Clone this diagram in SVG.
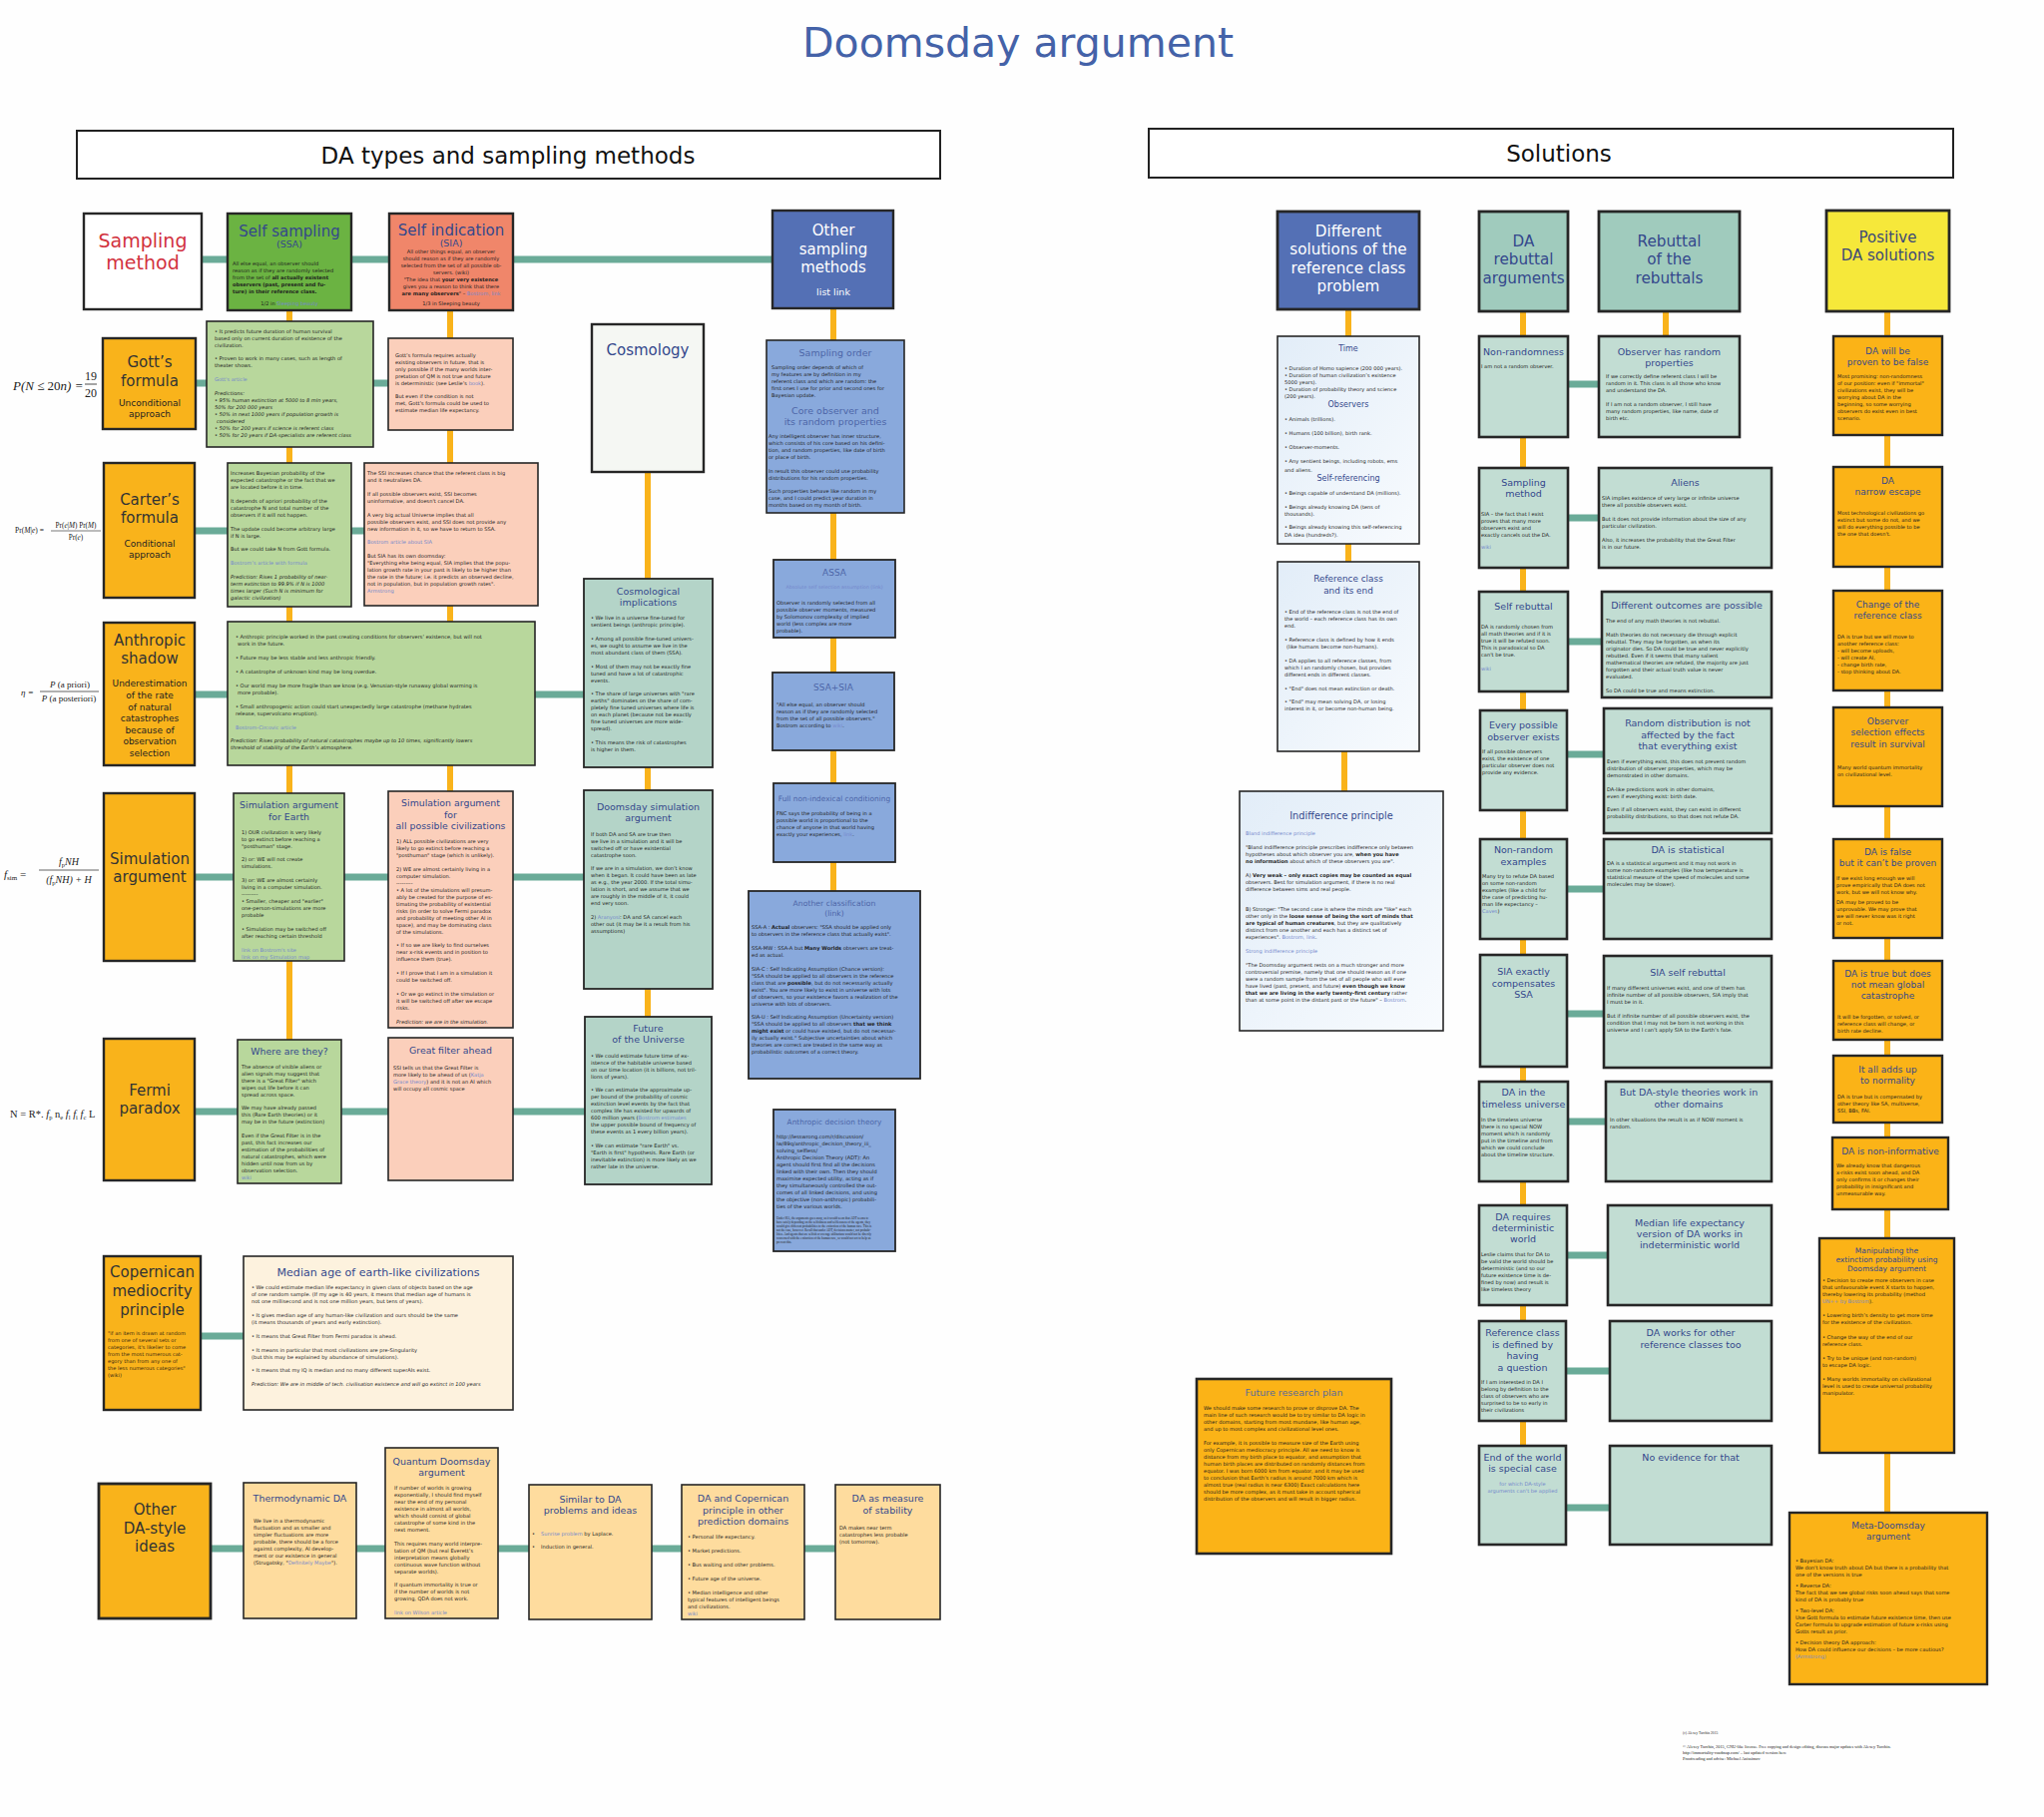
<svg xmlns="http://www.w3.org/2000/svg" width="2048" height="1821" viewBox="0 0 2048 1821">
<defs>
<linearGradient id="gb" x1="0" y1="0" x2="1" y2="1"><stop offset="0" stop-color="#e2edf8"/><stop offset="1" stop-color="#f8fbfe"/></linearGradient>
<style>
.box{stroke:#262626;stroke-width:2.4}
.hdr{fill:#fff;stroke:#222;stroke-width:2}
.t{font-family:"DejaVu Sans",Verdana,sans-serif;fill:#34488c;text-anchor:middle}
.t2{font-family:"DejaVu Sans",Verdana,sans-serif;fill:#4d66a8;text-anchor:middle}
.wt{font-family:"DejaVu Sans",Verdana,sans-serif;fill:#ffffff;text-anchor:middle}
.b{font-family:"DejaVu Sans",Verdana,sans-serif;font-size:5.1px;fill:#1e1e1e}
.c{text-anchor:middle}
.l{fill:#7488cc}
.i{font-style:italic}
.w{font-weight:bold}
.f{font-family:"Liberation Serif","Times New Roman",serif;fill:#222}
.tc{stroke:#6aab98;stroke-width:7;fill:none}
.oc{stroke:#f9b31b;stroke-width:6;fill:none}
.or{fill:#f9b31b}
.gr{fill:#b8d79c}
.pk{fill:#fbcfbb}
.lb{fill:#89a9dc}
.tl{fill:#b4d4c8}
.rt{fill:#c2ddd3}
.lo{fill:#fedc9e}
.ro{fill:#fbb317}
</style>
</defs>
<rect width="2048" height="1821" fill="#fefefe"/>

<text x="1020" y="57" font-size="41" fill="#4462a8" font-family="DejaVu Sans,Verdana,sans-serif" text-anchor="middle">Doomsday argument</text>

<g id="header-left"><rect x="77" y="131" width="865" height="48" class="hdr"/><text x="509" y="164" font-size="23" font-family="DejaVu Sans,Verdana,sans-serif" text-anchor="middle" fill="#111">DA types and sampling methods</text></g>
<g id="header-right"><rect x="1151" y="129" width="806" height="49" class="hdr"/><text x="1562" y="162" font-size="23" font-family="DejaVu Sans,Verdana,sans-serif" text-anchor="middle" fill="#111">Solutions</text></g>

<g id="connectors">
<line class="tc" x1="202" y1="260" x2="774" y2="260"/>
<line class="tc" x1="196" y1="384" x2="389" y2="384"/>
<line class="tc" x1="195" y1="532" x2="365" y2="532"/>
<line class="tc" x1="195" y1="696" x2="585" y2="696"/>
<line class="tc" x1="195" y1="879" x2="585" y2="879"/>
<line class="tc" x1="195" y1="1114" x2="586" y2="1114"/>
<line class="tc" x1="201" y1="1339" x2="244" y2="1339"/>
<line class="tc" x1="211" y1="1552" x2="837" y2="1552"/>
<line class="tc" x1="1571" y1="385" x2="1602" y2="385"/>
<line class="tc" x1="1571" y1="519" x2="1602" y2="519"/>
<line class="tc" x1="1571" y1="643" x2="1605" y2="643"/>
<line class="tc" x1="1570" y1="756" x2="1607" y2="756"/>
<line class="tc" x1="1570" y1="891" x2="1607" y2="891"/>
<line class="tc" x1="1570" y1="1016" x2="1607" y2="1016"/>
<line class="tc" x1="1571" y1="1124" x2="1609" y2="1124"/>
<line class="tc" x1="1570" y1="1258" x2="1611" y2="1258"/>
<line class="tc" x1="1569" y1="1374" x2="1613" y2="1374"/>
<line class="tc" x1="1569" y1="1511" x2="1613" y2="1511"/>
<line class="oc" x1="290" y1="311" x2="290" y2="1042"/>
<line class="oc" x1="451" y1="311" x2="451" y2="623"/>
<line class="oc" x1="451" y1="767" x2="451" y2="793"/>
<line class="oc" x1="649" y1="473" x2="649" y2="1019"/>
<line class="oc" x1="835" y1="309" x2="835" y2="893"/>
<line class="oc" x1="1351" y1="310" x2="1351" y2="563"/>
<line class="oc" x1="1347" y1="753" x2="1347" y2="793"/>
<line class="oc" x1="1526" y1="312" x2="1526" y2="1449"/>
<line class="oc" x1="1669" y1="312" x2="1669" y2="337"/>
<line class="oc" x1="1891" y1="312" x2="1891" y2="1516"/>
</g>

<!-- formulas -->
<g id="formula-gott"><text class="f i" x="13" y="391" font-size="13">P(N ≤ <tspan font-style="normal">20</tspan>n) =</text><text class="f" x="91" y="381" font-size="12" text-anchor="middle">19</text><line x1="85" y1="385" x2="97" y2="385" stroke="#222" stroke-width="0.8"/><text class="f" x="91" y="398" font-size="12" text-anchor="middle">20</text></g>
<g id="formula-carter"><text class="f" x="15" y="534" font-size="7.5">Pr(<tspan font-style="italic">M</tspan>|<tspan font-style="italic">e</tspan>) =</text><text class="f" x="76" y="529" font-size="7.2" text-anchor="middle">Pr(<tspan font-style="italic">e</tspan>|<tspan font-style="italic">M</tspan>) Pr(<tspan font-style="italic">M</tspan>)</text><line x1="51" y1="532" x2="101" y2="532" stroke="#222" stroke-width="0.6"/><text class="f" x="76" y="541" font-size="7.2" text-anchor="middle">Pr(<tspan font-style="italic">e</tspan>)</text></g>
<g id="formula-shadow"><text class="f i" x="21" y="697" font-size="9">η =</text><text class="f" x="70" y="689" font-size="9" text-anchor="middle"><tspan font-style="italic">P</tspan> (a priori)</text><line x1="40" y1="693" x2="99" y2="693" stroke="#222" stroke-width="0.7"/><text class="f" x="69" y="703" font-size="9" text-anchor="middle"><tspan font-style="italic">P</tspan> (a posteriori)</text></g>
<g id="formula-sim"><text class="f i" x="4" y="880" font-size="11">f<tspan font-size="7" font-style="normal" dy="2">sim</tspan><tspan dy="-2" font-style="normal"> =</tspan></text><text class="f i" x="69" y="867" font-size="10" text-anchor="middle">f<tspan font-size="6.5" font-style="normal" dy="2">p</tspan><tspan dy="-2">NH</tspan></text><line x1="39" y1="872" x2="99" y2="872" stroke="#222" stroke-width="0.7"/><text class="f i" x="69" y="885" font-size="10" text-anchor="middle">(f<tspan font-size="6.5" font-style="normal" dy="2">p</tspan><tspan dy="-2">NH) + H</tspan></text></g>
<g id="formula-fermi"><text class="f" x="10" y="1120" font-size="10.5">N = R*. <tspan font-style="italic">f</tspan><tspan font-size="6.5" dy="2">p</tspan><tspan dy="-2"> n</tspan><tspan font-size="6.5" dy="2">e</tspan><tspan dy="-2"> </tspan><tspan font-style="italic">f</tspan><tspan font-size="6.5" dy="2">l</tspan><tspan dy="-2"> </tspan><tspan font-style="italic">f</tspan><tspan font-size="6.5" dy="2">i</tspan><tspan dy="-2"> </tspan><tspan font-style="italic">f</tspan><tspan font-size="6.5" dy="2">c</tspan><tspan dy="-2"> L</tspan></text></g>

<g id="sampling-method"><rect x="84" y="214" width="118" height="96" fill="#fff" class="box"/><text class="t" font-size="19" style="fill:#d2323e"><tspan x="143" y="248">Sampling</tspan><tspan x="143" y="270">method</tspan></text></g>

<g id="self-sampling"><rect x="228" y="214" width="124" height="97" fill="#6bb342" class="box"/>
<text class="t" font-size="15" x="290" y="237">Self sampling</text><text class="t" font-size="9.5" x="290" y="248">(SSA)</text>
<text class="b"><tspan x="233" y="266">All else equal, an observer should</tspan><tspan x="233" y="273">reason as if they are randomly selected</tspan><tspan x="233" y="280">from the set of <tspan class="w">all actually existent</tspan></tspan><tspan x="233" y="287" class="w">observers (past, present and fu-</tspan><tspan x="233" y="294" class="w">ture) in their reference class.</tspan><tspan x="290" y="306" class="c">1/2 in <tspan class="l">Sleeping beauty</tspan></tspan></text></g>

<g id="self-indication"><rect x="390" y="214" width="124" height="97" fill="#f0866a" class="box"/>
<text class="t" font-size="15" x="452" y="236">Self indication</text><text class="t" font-size="9.5" x="452" y="247">(SIA)</text>
<text class="b c"><tspan x="452" y="254">All other things equal, an observer</tspan><tspan x="452" y="261">should reason as if they are randomly</tspan><tspan x="452" y="268">selected from the set of all possible ob-</tspan><tspan x="452" y="275">servers. (wiki)</tspan><tspan x="452" y="282">"The idea that <tspan class="w">your very existence</tspan></tspan><tspan x="452" y="289">gives you a reason to think that there</tspan><tspan x="452" y="296"><tspan class="w">are many observers</tspan>" – <tspan class="l">Bostrom, link</tspan></tspan><tspan x="452" y="306">1/3 in Sleeping beauty</tspan></text></g>

<g id="other-sampling"><rect x="774" y="211" width="121" height="98" fill="#5470b5" class="box"/>
<text class="wt" font-size="15"><tspan x="835" y="236">Other</tspan><tspan x="835" y="255">sampling</tspan><tspan x="835" y="273">methods</tspan></text><text class="wt" font-size="9.5" x="835" y="296">list link</text></g>

<g id="gott"><rect x="103" y="339" width="93" height="91" class="box or"/>
<text class="t" font-size="15" style="fill:#333"><tspan x="150" y="368">Gott’s</tspan><tspan x="150" y="387">formula</tspan></text><text class="t" font-size="9" style="fill:#222"><tspan x="150" y="407">Unconditional</tspan><tspan x="150" y="418">approach</tspan></text></g>

<g id="gott-ssa"><rect x="207" y="322" width="167" height="126" class="box gr" style="stroke-width:1.6"/>
<text class="b"><tspan x="215" y="334">• It predicts future duration of human survival</tspan><tspan x="215" y="341">based only on current duration of existence of the</tspan><tspan x="215" y="348">civilization.</tspan><tspan x="215" y="361">• Proven to work in many cases, such as length of</tspan><tspan x="215" y="368">theater shows.</tspan><tspan x="215" y="382" class="l">Gott's article</tspan><tspan class="i"><tspan x="215" y="396">Predictions:</tspan><tspan x="215" y="403">• 95% human extinction at 5000 to 8 mln years,</tspan><tspan x="215" y="410">50%  for 200 000 years</tspan><tspan x="215" y="417">• 50% in next 1000 years if population growth is</tspan><tspan x="217" y="424">considered</tspan><tspan x="215" y="431">• 50% for 200 years if science is referent class</tspan><tspan x="215" y="438">• 50% for 20 years if DA-specialists are referent class</tspan></tspan></text></g>

<g id="gott-sia"><rect x="389" y="339" width="125" height="92" class="box pk" style="stroke-width:1.6"/>
<text class="b"><tspan x="396" y="358">Gott’s formula requires actually</tspan><tspan x="396" y="365">existing observers in future, that is</tspan><tspan x="396" y="372">only possible if the many worlds inter-</tspan><tspan x="396" y="379">pretation of QM is not true and future</tspan><tspan x="396" y="386">is deterministic (see Leslie’s <tspan class="l">book</tspan>).</tspan><tspan x="396" y="399">But even if the condition is not</tspan><tspan x="396" y="406">met, Gott’s formula could be used to</tspan><tspan x="396" y="413">estimate median life expectancy.</tspan></text></g>

<g id="carter"><rect x="104" y="464" width="91" height="135" class="box or"/>
<text class="t" font-size="15" style="fill:#333"><tspan x="150" y="506">Carter’s</tspan><tspan x="150" y="524">formula</tspan></text><text class="t" font-size="9" style="fill:#222"><tspan x="150" y="548">Conditional</tspan><tspan x="150" y="559">approach</tspan></text></g>

<g id="carter-ssa"><rect x="228" y="464" width="124" height="144" class="box gr" style="stroke-width:1.6"/>
<text class="b"><tspan x="231" y="476">Increases Bayesian probability of the</tspan><tspan x="231" y="483">expected catastrophe or the fact that we</tspan><tspan x="231" y="490">are located before it in time.</tspan><tspan x="231" y="504">It depends of apriori probability of the</tspan><tspan x="231" y="511">catastrophe N and total number of the</tspan><tspan x="231" y="518">observers if it will not happen.</tspan><tspan x="231" y="532">The update could become arbitrary large</tspan><tspan x="231" y="539">if N is large.</tspan><tspan x="231" y="552">But we could take N from Gott formula.</tspan><tspan x="231" y="566" class="l">Bostrom’s article with formula</tspan><tspan class="i"><tspan x="231" y="580">Prediction: Rises 1 probability of near-</tspan><tspan x="231" y="587">term extinction to 99.9% if N is 1000</tspan><tspan x="231" y="594">times larger (Such N is minimum for</tspan><tspan x="231" y="601">galactic civilization)</tspan></tspan></text></g>

<g id="carter-sia"><rect x="365" y="464" width="174" height="143" class="box pk" style="stroke-width:1.6"/>
<text class="b"><tspan x="368" y="476">The SSI increases chance that the referent class is big</tspan><tspan x="368" y="483">and it neutralizes DA.</tspan><tspan x="368" y="497">If all possible observers exist, SSI becomes</tspan><tspan x="368" y="504">uninformative, and doesn't cancel DA.</tspan><tspan x="368" y="518">A very big actual Universe implies that all</tspan><tspan x="368" y="525">possible observers exist, and SSI does not provide any</tspan><tspan x="368" y="532">new information in it, so we have to return to SSA.</tspan><tspan x="368" y="545" class="l">Bostrom article about SIA</tspan><tspan x="368" y="559">But SIA has its own doomsday:</tspan><tspan x="368" y="566">"Everything else being equal, SIA implies that the popu-</tspan><tspan x="368" y="573">lation growth rate in your past is likely to be higher than</tspan><tspan x="368" y="580">the rate in the future; i.e. it predicts an observed decline,</tspan><tspan x="368" y="587">not in population, but in population growth rates".</tspan><tspan x="368" y="594" class="l">Armstrong</tspan></text></g>

<g id="anthropic-shadow"><rect x="104" y="624" width="91" height="143" class="box or"/>
<text class="t" font-size="15" style="fill:#333"><tspan x="150" y="647">Anthropic</tspan><tspan x="150" y="665">shadow</tspan></text><text class="t" font-size="9" style="fill:#222"><tspan x="150" y="688">Underestimation</tspan><tspan x="150" y="700">of the rate</tspan><tspan x="150" y="712">of natural</tspan><tspan x="150" y="723">catastrophes</tspan><tspan x="150" y="735">because of</tspan><tspan x="150" y="746">observation</tspan><tspan x="150" y="758">selection</tspan></text></g>

<g id="anthropic-details"><rect x="228" y="623" width="308" height="144" class="box gr" style="stroke-width:1.6"/>
<text class="b"><tspan x="236" y="640">• Anthropic principle worked in the past creating conditions for observers’ existence, but will not</tspan><tspan x="238" y="647">work in the future.</tspan><tspan x="236" y="661">• Future may be less stable and less anthropic friendly.</tspan><tspan x="236" y="675">• A catastrophe of unknown kind may be long overdue.</tspan><tspan x="236" y="689">• Our world may be more fragile than we know (e.g. Venusian-style runaway global warming is</tspan><tspan x="238" y="696">more probable).</tspan><tspan x="236" y="710">• Small anthropogenic action could start unexpectedly large catastrophe (methane hydrates</tspan><tspan x="236" y="717">release, supervolcano eruption).</tspan><tspan x="236" y="731" class="l">Bostrom-Circovic article</tspan><tspan class="i"><tspan x="231" y="744">Prediction: Rises probability of natural catastrophes maybe up to 10 times, significantly lowers</tspan><tspan x="231" y="751">threshold of stability of the Earth’s atmosphere.</tspan></tspan></text></g>

<g id="simulation"><rect x="104" y="795" width="91" height="168" class="box or"/>
<text class="t" font-size="15" style="fill:#333"><tspan x="150" y="866">Simulation</tspan><tspan x="150" y="884">argument</tspan></text></g>

<g id="sim-earth"><rect x="234" y="795" width="111" height="168" class="box gr" style="stroke-width:1.6"/>
<text class="t" font-size="9.4"><tspan x="289.5" y="810">Simulation argument</tspan><tspan x="289.5" y="822">for Earth</tspan></text>
<text class="b"><tspan x="242" y="836">1) OUR civilization is very likely</tspan><tspan x="242" y="843">to go extinct before reaching a</tspan><tspan x="242" y="850">"posthuman" stage.</tspan><tspan x="242" y="863">2) or: WE will not create</tspan><tspan x="242" y="870">simulations.</tspan><tspan x="242" y="884">3) or: WE are almost certainly</tspan><tspan x="242" y="891">living in a computer simulation.</tspan><tspan x="242" y="898">---------</tspan><tspan x="242" y="905">• Smaller, cheaper and "earlier"</tspan><tspan x="242" y="912">one-person-simulations are more</tspan><tspan x="242" y="919">probable</tspan><tspan x="242" y="933">• Simulation may be switched off</tspan><tspan x="242" y="940">after reaching certain threshold</tspan><tspan x="242" y="954" class="l">link on Bostrom's site</tspan><tspan x="242" y="961" class="l">link on my Simulation map</tspan></text></g>

<g id="sim-all"><rect x="389" y="793" width="125" height="237" class="box pk" style="stroke-width:1.6"/>
<text class="t" font-size="9.4"><tspan x="451.5" y="808">Simulation argument</tspan><tspan x="451.5" y="820">for</tspan><tspan x="451.5" y="831">all possible civilizations</tspan></text>
<text class="b"><tspan x="397" y="845">1) ALL possible civilizations are very</tspan><tspan x="397" y="852">likely to go extinct before reaching a</tspan><tspan x="397" y="859">"posthuman" stage (which is unlikely).</tspan><tspan x="397" y="873">2) WE are almost certainly living in a</tspan><tspan x="397" y="880">computer simulation.</tspan><tspan x="397" y="887">---------</tspan><tspan x="397" y="894">• A lot of the simulations will presum-</tspan><tspan x="397" y="901">ably be created for the purpose of es-</tspan><tspan x="397" y="908">timating the probability of existential</tspan><tspan x="397" y="915">risks (in order to solve Fermi paradox</tspan><tspan x="397" y="922">and probability of meeting other AI in</tspan><tspan x="397" y="929">space), and may be dominating class</tspan><tspan x="397" y="936">of the simulations.</tspan><tspan x="397" y="949">• If so we are likely to find ourselves</tspan><tspan x="397" y="956">near x-risk events and in position to</tspan><tspan x="397" y="963">influence them (true).</tspan><tspan x="397" y="977">• If I prove that I am in a simulation it</tspan><tspan x="397" y="984">could be switched off.</tspan><tspan x="397" y="998">• Or we go extinct in the simulation or</tspan><tspan x="397" y="1005">it will be switched off after we escape</tspan><tspan x="397" y="1012">risks.</tspan><tspan x="397" y="1026" class="i">Prediction: we are in the simulation.</tspan></text></g>

<g id="fermi"><rect x="104" y="1041" width="91" height="142" class="box or"/>
<text class="t" font-size="15" style="fill:#333"><tspan x="150" y="1098">Fermi</tspan><tspan x="150" y="1116">paradox</tspan></text></g>

<g id="where"><rect x="238" y="1042" width="104" height="144" class="box gr" style="stroke-width:1.6"/>
<text class="t" font-size="9.4" x="290" y="1057">Where are they?</text>
<text class="b"><tspan x="242" y="1071">The absence of visible aliens or</tspan><tspan x="242" y="1078">alien signals may suggest that</tspan><tspan x="242" y="1085">there is a "Great Filter" which</tspan><tspan x="242" y="1092">wipes out life before it can</tspan><tspan x="242" y="1099">spread across space.</tspan><tspan x="242" y="1112">We may have already passed</tspan><tspan x="242" y="1119">this (Rare Earth theories) or it</tspan><tspan x="242" y="1126">may be in the future (extinction)</tspan><tspan x="242" y="1140">Even if the Great Filter is in the</tspan><tspan x="242" y="1147">past, this fact increases our</tspan><tspan x="242" y="1154">estimation of the probabilities of</tspan><tspan x="242" y="1161">natural catastrophes, which were</tspan><tspan x="242" y="1168">hidden until now from us by</tspan><tspan x="242" y="1175">observation selection.</tspan><tspan x="242" y="1182" class="l">wiki</tspan></text></g>

<g id="great-filter"><rect x="389" y="1040" width="125" height="143" class="box pk" style="stroke-width:1.6"/>
<text class="t" font-size="9.4" x="451.5" y="1056">Great filter ahead</text>
<text class="b"><tspan x="394" y="1072">SSI tells us that the Great Filter is</tspan><tspan x="394" y="1079">more likely to be ahead of us (<tspan class="l">Katja</tspan></tspan><tspan x="394" y="1086"><tspan class="l">Grace theory</tspan>) and it is not an AI which</tspan><tspan x="394" y="1093">will occupy all cosmic space</tspan></text></g>

<g id="cosmology"><rect x="593" y="325" width="112" height="148" fill="#f5f7f3" class="box"/>
<text class="t" font-size="15" x="649" y="356">Cosmology</text></g>

<g id="sampling-order"><rect x="768" y="341" width="138" height="173" class="box lb" style="stroke-width:1.6"/>
<text class="t2" font-size="9.5" x="837" y="357">Sampling order</text>
<text class="b"><tspan x="773" y="370">Sampling order depends of which of</tspan><tspan x="773" y="377">my features are by definition in my</tspan><tspan x="773" y="384">referent class and which are random: the</tspan><tspan x="773" y="391">first ones I use for prior and second ones for</tspan><tspan x="773" y="398">Bayesian update.</tspan></text>
<text class="t2" font-size="9.5"><tspan x="837" y="415">Core observer and</tspan><tspan x="837" y="426">its random properties</tspan></text>
<text class="b"><tspan x="770" y="439">Any intelligent observer has inner structure,</tspan><tspan x="770" y="446">which consists of his core based on his defini-</tspan><tspan x="770" y="453">tion, and random properties, like date of birth</tspan><tspan x="770" y="460">or place of birth.</tspan><tspan x="770" y="474">In result this observer could use probability</tspan><tspan x="770" y="481">distributions for his random properties.</tspan><tspan x="770" y="494">Such properties behave like random in my</tspan><tspan x="770" y="501">case, and I could predict year duration in</tspan><tspan x="770" y="508">months based on my month of birth.</tspan></text></g>

<g id="cosmological-implications"><rect x="585" y="580" width="129" height="189" class="box tl" style="stroke-width:1.8"/>
<text class="t" font-size="9.5"><tspan x="649.5" y="596">Cosmological</tspan><tspan x="649.5" y="607">implications</tspan></text>
<text class="b"><tspan x="592" y="621">•  We live in a universe fine-tuned for</tspan><tspan x="592" y="628">sentient beings (anthropic principle).</tspan><tspan x="592" y="642">•  Among all possible fine-tuned univers-</tspan><tspan x="592" y="649">es, we ought to assume we live in the</tspan><tspan x="592" y="656">most abundant class of them (SSA).</tspan><tspan x="592" y="670">•  Most of them may not be exactly fine</tspan><tspan x="592" y="677">tuned and have a lot of catastrophic</tspan><tspan x="592" y="684">events.</tspan><tspan x="592" y="697">•  The share of large universes with "rare</tspan><tspan x="592" y="704">earths" dominates on the share of com-</tspan><tspan x="592" y="711">pletely fine tuned universes where life is</tspan><tspan x="592" y="718">on each planet (because not be exactly</tspan><tspan x="592" y="725">fine tuned universes are more wide-</tspan><tspan x="592" y="732">spread).</tspan><tspan x="592" y="746">•  This means the risk of catastrophes</tspan><tspan x="592" y="753">is higher in them.</tspan></text></g>

<g id="doomsday-simulation"><rect x="585" y="792" width="129" height="199" class="box tl" style="stroke-width:1.8"/>
<text class="t" font-size="9.5"><tspan x="649.5" y="812">Doomsday simulation</tspan><tspan x="649.5" y="823">argument</tspan></text>
<text class="b"><tspan x="592" y="838">If both DA and SA are true then</tspan><tspan x="592" y="845">we live in a simulation and it will be</tspan><tspan x="592" y="852">switched off or have existential</tspan><tspan x="592" y="859">catastrophe soon.</tspan><tspan x="592" y="872">If we are in a simulation, we don’t know</tspan><tspan x="592" y="879">when it began. It could have been as late</tspan><tspan x="592" y="886">as e.g., the year 2000. If the total simu-</tspan><tspan x="592" y="893">lation is short, and we assume that we</tspan><tspan x="592" y="900">are roughly in the middle of it, it could</tspan><tspan x="592" y="907">end very soon.</tspan><tspan x="592" y="921">2) <tspan class="l">Aranyosi</tspan>: DA and SA cancel each</tspan><tspan x="592" y="928">other out (it may be it a result from his</tspan><tspan x="592" y="935">assumptions)</tspan></text></g>

<g id="future-universe"><rect x="586" y="1019" width="127" height="168" class="box tl" style="stroke-width:1.8"/>
<text class="t" font-size="9.5"><tspan x="649.5" y="1034">Future</tspan><tspan x="649.5" y="1045">of the Universe</tspan></text>
<text class="b"><tspan x="592" y="1060">•  We could estimate future time of ex-</tspan><tspan x="592" y="1067">istence of the habitable universe based</tspan><tspan x="592" y="1074">on our time location (it is billions, not tril-</tspan><tspan x="592" y="1081">lions of years).</tspan><tspan x="592" y="1094">•  We can estimate the approximate up-</tspan><tspan x="592" y="1101">per bound of the probability of cosmic</tspan><tspan x="592" y="1108">extinction level events by the fact that</tspan><tspan x="592" y="1115">complex life has existed for upwards of</tspan><tspan x="592" y="1122">600 million years (<tspan class="l">Bostrom estimates</tspan></tspan><tspan x="592" y="1129">the upper possible bound of frequency of</tspan><tspan x="592" y="1136">these events as 1 every billion years).</tspan><tspan x="592" y="1150">•  We can estimate "rare Earth" vs.</tspan><tspan x="592" y="1157">"Earth is first" hypothesis. Rare Earth (or</tspan><tspan x="592" y="1164">inevitable extinction) is more likely as we</tspan><tspan x="592" y="1171">rather late in the universe.</tspan></text></g>

<g id="assa"><rect x="775" y="561" width="122" height="78" class="box lb" style="stroke-width:1.8"/>
<text class="t2" font-size="9" x="836" y="577">ASSA</text>
<text class="b c l" x="836" y="590" style="font-size:4.8px">Absolute self selection assumption (link)</text>
<text class="b"><tspan x="778" y="606">Observer is randomly selected from all</tspan><tspan x="778" y="613">possible observer moments, measured</tspan><tspan x="778" y="620">by Solomonov complexity of implied</tspan><tspan x="778" y="627">world (less complex are more</tspan><tspan x="778" y="634">probable).</tspan></text></g>

<g id="ssa-sia"><rect x="774" y="674" width="122" height="78" class="box lb" style="stroke-width:1.8"/>
<text class="t2" font-size="9" x="835" y="692">SSA+SIA</text>
<text class="b"><tspan x="778" y="708">"All else equal, an observer should</tspan><tspan x="778" y="715">reason as if they are randomly selected</tspan><tspan x="778" y="722">from the set of all possible observers."</tspan><tspan x="778" y="729">Bostrom according to <tspan class="l">wiki</tspan>.</tspan></text></g>

<g id="fnc"><rect x="775" y="785" width="122" height="79" class="box lb" style="stroke-width:1.8"/>
<text class="t2" font-size="7.4" x="836" y="803">Full non-indexical conditioning</text>
<text class="b"><tspan x="778" y="817">FNC says the probability of being in a</tspan><tspan x="778" y="824">possible world is proportional to the</tspan><tspan x="778" y="831">chance of anyone in that world having</tspan><tspan x="778" y="838">exactly your experiences, <tspan class="l">link</tspan>.</tspan></text></g>

<g id="another-classification"><rect x="750" y="893" width="172" height="188" class="box lb" style="stroke-width:1.8"/>
<text class="t2" font-size="7.7"><tspan x="836" y="908">Another classification</tspan><tspan x="836" y="917.5">(link)</tspan></text>
<text class="b"><tspan x="753" y="931">SSA-A : <tspan class="w">Actual</tspan> observers: "SSA should be applied only</tspan><tspan x="753" y="938">to observers in the reference class that actually exist".</tspan><tspan x="753" y="952">SSA-MW : SSA-A but <tspan class="w">Many Worlds</tspan> observers are treat-</tspan><tspan x="753" y="959">ed as actual.</tspan><tspan x="753" y="973">SIA-C : Self Indicating Assumption (Chance version):</tspan><tspan x="753" y="980">"SSA should be applied to all observers in the reference</tspan><tspan x="753" y="987">class that are <tspan class="w">possible</tspan>, but do not necessarily actually</tspan><tspan x="753" y="994">exist". You are more likely to exist in universe with lots</tspan><tspan x="753" y="1001">of observers, so your existence favors a realization of the</tspan><tspan x="753" y="1008">universe with lots of observers.</tspan><tspan x="753" y="1021">SIA-U : Self Indicating Assumption (Uncertainty version)</tspan><tspan x="753" y="1028">"SSA should be applied to all observers <tspan class="w">that we think</tspan></tspan><tspan x="753" y="1035"><tspan class="w">might exist</tspan> or could have existed, but do not necessar-</tspan><tspan x="753" y="1042">ily actually exist." Subjective uncertainties about which</tspan><tspan x="753" y="1049">theories are correct are treated in the same way as</tspan><tspan x="753" y="1056">probabilistic outcomes of a correct theory.</tspan></text></g>

<g id="adt"><rect x="775" y="1112" width="122" height="142" class="box lb" style="stroke-width:1.8"/>
<text class="t2" font-size="7.4" x="836" y="1127">Anthropic decision theory</text>
<text class="b"><tspan x="778" y="1141">http://lesswrong.com/r/discussion/</tspan><tspan x="778" y="1148">lw/89q/anthropic_decision_theory_iii_</tspan><tspan x="778" y="1155">solving_selfless/</tspan><tspan x="778" y="1162">Anthropic Decision Theory (ADT): An</tspan><tspan x="778" y="1169">agent should first find all the decisions</tspan><tspan x="778" y="1176">linked with their own. Then they should</tspan><tspan x="778" y="1183">maximise expected utility, acting as if</tspan><tspan x="778" y="1190">they simultaneously controlled the out-</tspan><tspan x="778" y="1197">comes of all linked decisions, and using</tspan><tspan x="778" y="1204">the objective (non-anthropic) probabili-</tspan><tspan x="778" y="1211">ties of the various worlds.</tspan></text>
<text class="f" font-size="3.1"><tspan x="778" y="1222">Under SIA, the arguments goes away, as it would seem that ADT seems to</tspan><tspan x="778" y="1226">have safely depending on the selfishness and selflessness of the agents, they</tspan><tspan x="778" y="1230">would give different probabilities to the extinction of the human race. This is</tspan><tspan x="778" y="1234">not the case, however. Recall that under ADT, decisions matter, not probabi-</tspan><tspan x="778" y="1238">lities. And agents that are selfish or average utilitarians would not be directly</tspan><tspan x="778" y="1242">concerned with the extinction of the human race, so would not act to help us</tspan><tspan x="778" y="1246">prevent this.</tspan></text></g>

<g id="copernican"><rect x="104" y="1259" width="97" height="154" class="box or"/>
<text class="t" font-size="15" style="fill:#333"><tspan x="152.5" y="1280">Copernican</tspan><tspan x="152.5" y="1299">mediocrity</tspan><tspan x="152.5" y="1318">principle</tspan></text>
<text class="b" style="fill:#3b2a10"><tspan x="108" y="1338">"if an item is drawn at random</tspan><tspan x="108" y="1345">from one of several sets or</tspan><tspan x="108" y="1352">categories, it's likelier to come</tspan><tspan x="108" y="1359">from the most numerous cat-</tspan><tspan x="108" y="1366">egory than from any one of</tspan><tspan x="108" y="1373">the less numerous categories"</tspan><tspan x="108" y="1380">(wiki)</tspan></text></g>

<g id="median-age"><rect x="244" y="1259" width="270" height="154" fill="#fdf2de" class="box" style="stroke-width:1.6"/>
<text class="t" font-size="11.1" x="379" y="1279">Median age of earth-like civilizations</text>
<text class="b"><tspan x="252" y="1292">• We could estimate median life expectancy in given class of objects based on the age</tspan><tspan x="252" y="1299">of one random sample. (If my age is 40 years, it means that median age of humans is</tspan><tspan x="252" y="1306">not one millisecond and is not one million years, but tens of years).</tspan><tspan x="252" y="1320">• It gives median age of any human-like civilization and ours should be the same</tspan><tspan x="252" y="1327">(it means thousands of years and early extinction).</tspan><tspan x="252" y="1341">• It means that Great Filter from Fermi paradox is ahead.</tspan><tspan x="252" y="1355">• It means in particular that most civilizations are pre-Singularity</tspan><tspan x="252" y="1362">(but this may be explained by abundance of simulations).</tspan><tspan x="252" y="1375">• It means that my IQ is median and no many different superAIs exist.</tspan><tspan x="252" y="1389" class="i">Prediction: We are in middle of tech. civilisation existence and will go extinct in 100 years</tspan></text></g>

<g id="other-da-style"><rect x="99" y="1487" width="112" height="135" class="box or" style="stroke-width:2.8"/>
<text class="t" font-size="15" style="fill:#333"><tspan x="155" y="1518">Other</tspan><tspan x="155" y="1537">DA-style</tspan><tspan x="155" y="1555">ideas</tspan></text></g>

<g id="thermodynamic"><rect x="244" y="1486" width="113" height="136" class="box lo" style="stroke-width:1.6"/>
<text class="t" font-size="9.5" x="300.5" y="1505">Thermodynamic DA</text>
<text class="b"><tspan x="254" y="1526">We live in a thermodynamic</tspan><tspan x="254" y="1533">fluctuation and as smaller and</tspan><tspan x="254" y="1540">simpler fluctuations are more</tspan><tspan x="254" y="1547">probable, there should be a force</tspan><tspan x="254" y="1554">against complexity, AI develop-</tspan><tspan x="254" y="1561">ment or our existence in general</tspan><tspan x="254" y="1568">(Strugatsky, "<tspan class="l">Definitely Maybe</tspan>").</tspan></text></g>

<g id="quantum"><rect x="386" y="1451" width="113" height="171" class="box lo" style="stroke-width:1.6"/>
<text class="t" font-size="9.5"><tspan x="442.5" y="1468">Quantum Doomsday</tspan><tspan x="442.5" y="1479">argument</tspan></text>
<text class="b"><tspan x="395" y="1493">If number of worlds is growing</tspan><tspan x="395" y="1500">exponentially, I should find myself</tspan><tspan x="395" y="1507">near the end of my personal</tspan><tspan x="395" y="1514">existence in almost all worlds,</tspan><tspan x="395" y="1521">which should consist of global</tspan><tspan x="395" y="1528">catastrophe of some kind in the</tspan><tspan x="395" y="1535">next moment.</tspan><tspan x="395" y="1549">This requires many world interpre-</tspan><tspan x="395" y="1556">tation of QM (but real Everett’s</tspan><tspan x="395" y="1563">interpretation means globally</tspan><tspan x="395" y="1570">continuous wave function without</tspan><tspan x="395" y="1577">separate worlds).</tspan><tspan x="395" y="1590">If quantum immortality is true or</tspan><tspan x="395" y="1597">if the number of worlds is not</tspan><tspan x="395" y="1604">growing, QDA does not work.</tspan><tspan x="395" y="1618" class="l">link on Wilson article</tspan></text></g>

<g id="similar"><rect x="530" y="1488" width="123" height="135" class="box lo" style="stroke-width:1.6"/>
<text class="t" font-size="9.5"><tspan x="591.5" y="1506">Similar to DA</tspan><tspan x="591.5" y="1517">problems and ideas</tspan></text>
<text class="b"><tspan x="533" y="1539">•</tspan><tspan x="542" y="1539"><tspan class="l">Sunrise problem</tspan> by Laplace.</tspan><tspan x="533" y="1552">•</tspan><tspan x="542" y="1552">Induction in general.</tspan></text></g>

<g id="da-copernican"><rect x="683" y="1488" width="123" height="135" class="box lo" style="stroke-width:1.6"/>
<text class="t" font-size="9.5"><tspan x="744.5" y="1505">DA and Copernican</tspan><tspan x="744.5" y="1517">principle in other</tspan><tspan x="744.5" y="1528">prediction domains</tspan></text>
<text class="b"><tspan x="689" y="1542">•  Personal life expectancy.</tspan><tspan x="689" y="1556">•  Market predictions.</tspan><tspan x="689" y="1570">•  Bus waiting and other problems.</tspan><tspan x="689" y="1584">•  Future age of the universe.</tspan><tspan x="689" y="1598">•  Median intelligence and other</tspan><tspan x="689" y="1605">typical features of intelligent beings</tspan><tspan x="689" y="1612">and civilizations.</tspan><tspan x="689" y="1619" class="l">wiki</tspan></text></g>

<g id="da-stability"><rect x="837" y="1488" width="105" height="135" class="box lo" style="stroke-width:1.6"/>
<text class="t" font-size="9.5"><tspan x="889.5" y="1505">DA as measure</tspan><tspan x="889.5" y="1517">of stability</tspan></text>
<text class="b"><tspan x="841" y="1533">DA makes near term</tspan><tspan x="841" y="1540">catastrophes less probable</tspan><tspan x="841" y="1547">(not tomorrow).</tspan></text></g>

<!-- RIGHT SIDE -->
<g id="different-solutions"><rect x="1280" y="212" width="142" height="98" fill="#5470b5" class="box" style="stroke-width:2.8"/>
<text class="wt" font-size="15.2"><tspan x="1351" y="237">Different</tspan><tspan x="1351" y="255">solutions of the</tspan><tspan x="1351" y="274">reference class</tspan><tspan x="1351" y="292">problem</tspan></text></g>

<g id="da-rebuttal"><rect x="1482" y="212" width="89" height="100" fill="#a0cbbd" class="box" style="stroke-width:2.8"/>
<text class="t" font-size="15.2"><tspan x="1526.5" y="247">DA</tspan><tspan x="1526.5" y="265">rebuttal</tspan><tspan x="1526.5" y="284">arguments</tspan></text></g>

<g id="rebuttal-rebuttals"><rect x="1602" y="212" width="141" height="100" fill="#a0cbbd" class="box" style="stroke-width:2.8"/>
<text class="t" font-size="15.2"><tspan x="1672.5" y="247">Rebuttal</tspan><tspan x="1672.5" y="265">of the</tspan><tspan x="1672.5" y="284">rebuttals</tspan></text></g>

<g id="positive"><rect x="1830" y="211" width="123" height="101" fill="#f6e83a" class="box" style="stroke-width:2.8"/>
<text class="t" font-size="15" style="fill:#3d4a78"><tspan x="1891.5" y="243">Positive</tspan><tspan x="1891.5" y="261">DA solutions</tspan></text></g>

<g id="time"><rect x="1280" y="337" width="142" height="208" fill="url(#gb)" class="box" style="stroke-width:1.6"/>
<text class="t" font-size="8" x="1351" y="352">Time</text>
<text class="b"><tspan x="1287" y="371">• Duration of Homo sapience (200 000 years).</tspan><tspan x="1287" y="378">• Duration of human civilization’s existence</tspan><tspan x="1287" y="385">5000 years).</tspan><tspan x="1287" y="392">• Duration of probability theory and science</tspan><tspan x="1287" y="399">(200 years).</tspan></text>
<text class="t" font-size="8" x="1351" y="408">Observers</text>
<text class="b"><tspan x="1287" y="422">• Animals (trillions).</tspan><tspan x="1287" y="436">• Humans (100 billion), birth rank.</tspan><tspan x="1287" y="450">• Observer-moments.</tspan><tspan x="1287" y="464">• Any sentient beings, including robots, ems</tspan><tspan x="1287" y="473">and aliens.</tspan></text>
<text class="t" font-size="8" x="1351" y="482">Self-referencing</text>
<text class="b"><tspan x="1287" y="496">• Beings capable of understand DA (millions).</tspan><tspan x="1287" y="510">• Beings already knowing DA (tens of</tspan><tspan x="1287" y="517">thousands).</tspan><tspan x="1287" y="530">• Beings already knowing this self-referencing</tspan><tspan x="1287" y="538">DA idea (hundreds?).</tspan></text></g>

<g id="reference-class-end"><rect x="1280" y="563" width="142" height="190" fill="url(#gb)" class="box" style="stroke-width:1.6"/>
<text class="t" font-size="8.9"><tspan x="1351" y="583">Reference class</tspan><tspan x="1351" y="595">and its end</tspan></text>
<text class="b"><tspan x="1287" y="615">• End of the reference class is not the end of</tspan><tspan x="1287" y="622">the world – each reference class has its own</tspan><tspan x="1287" y="629">end.</tspan><tspan x="1287" y="643">• Reference class is defined by how it ends</tspan><tspan x="1289" y="650">(like humans become non-humans).</tspan><tspan x="1287" y="664">• DA applies to all reference classes, from</tspan><tspan x="1287" y="671">which I an randomly chosen, but provides</tspan><tspan x="1287" y="678">different ends in different classes.</tspan><tspan x="1287" y="692">• "End" does not mean extinction or death.</tspan><tspan x="1287" y="705">• "End" may mean solving DA, or losing</tspan><tspan x="1287" y="712">interest in it, or become non-human being.</tspan></text></g>

<g id="indifference"><rect x="1242" y="793" width="204" height="240" fill="url(#gb)" class="box" style="stroke-width:1.6"/>
<text class="t" font-size="9.8" x="1344" y="821">Indifference principle</text>
<text class="b"><tspan x="1248" y="837" class="l">Bland indifference principle</tspan><tspan x="1248" y="851">"Bland indifference principle prescribes indifference only between</tspan><tspan x="1248" y="858">hypotheses about which observer you are, <tspan class="w">when you have</tspan></tspan><tspan x="1248" y="865"><tspan class="w">no information</tspan> about which of these observers you are".</tspan><tspan x="1248" y="879">A) <tspan class="w">Very weak – only exact copies may be counted as equal</tspan></tspan><tspan x="1248" y="886">observers. Best for simulation argument, if there is no real</tspan><tspan x="1248" y="893">difference between sims and real people.</tspan><tspan x="1248" y="913">B) Stronger: "The second case is where the minds are "like" each</tspan><tspan x="1248" y="920">other only in the <tspan class="w">loose sense of being the sort of minds that</tspan></tspan><tspan x="1248" y="927"><tspan class="w">are typical of human creatures</tspan>, but they are qualitatively</tspan><tspan x="1248" y="934">distinct from one another and each has a distinct set of</tspan><tspan x="1248" y="941">experiences". <tspan class="l">Bostrom, link</tspan>.</tspan><tspan x="1248" y="955" class="l">Strong indifference principle</tspan><tspan x="1248" y="969">"The Doomsday argument rests on a much stronger and more</tspan><tspan x="1248" y="976">controversial premise, namely that one should reason as if one</tspan><tspan x="1248" y="983">were a random sample from the set of all people who will ever</tspan><tspan x="1248" y="990">have lived (past, present, and future) <tspan class="w">even though we know</tspan></tspan><tspan x="1248" y="997"><tspan class="w">that we are living in the early twenty-first century</tspan> rather</tspan><tspan x="1248" y="1004">than at some point in the distant past or the future" – <tspan class="l">Bostrom</tspan>.</tspan></text></g>

<g id="non-randomness"><rect x="1482" y="337" width="89" height="101" class="box rt" style="stroke-width:2.6"/>
<text class="t" font-size="9.5" x="1526.5" y="356">Non-randomness</text>
<text class="b"><tspan x="1484" y="369">I am not a random observer.</tspan></text></g>

<g id="observer-random"><rect x="1602" y="337" width="141" height="101" class="box rt" style="stroke-width:2.6"/>
<text class="t" font-size="9.5"><tspan x="1672.5" y="356">Observer has random</tspan><tspan x="1672.5" y="367">properties</tspan></text>
<text class="b"><tspan x="1609" y="379">If we correctly define referent class I will be</tspan><tspan x="1609" y="386">random in it. This class is all those who know</tspan><tspan x="1609" y="393">and understand the DA.</tspan><tspan x="1609" y="407">If I am not a random observer, I still have</tspan><tspan x="1609" y="414">many random properties, like name, date of</tspan><tspan x="1609" y="421">birth etc.</tspan></text></g>

<g id="sampling-method-r"><rect x="1482" y="469" width="89" height="100" class="box rt" style="stroke-width:2.6"/>
<text class="t" font-size="9.5"><tspan x="1526.5" y="487">Sampling</tspan><tspan x="1526.5" y="498">method</tspan></text>
<text class="b"><tspan x="1484" y="517">SIA – the fact that I exist</tspan><tspan x="1484" y="524">proves that many more</tspan><tspan x="1484" y="531">observers exist and</tspan><tspan x="1484" y="538">exactly cancels out the DA.</tspan><tspan x="1484" y="550" class="l">wiki</tspan></text></g>

<g id="aliens"><rect x="1602" y="469" width="173" height="100" class="box rt" style="stroke-width:2.6"/>
<text class="t" font-size="9.5" x="1688.5" y="487">Aliens</text>
<text class="b"><tspan x="1605" y="501">SIA implies existence of very large or infinite universe</tspan><tspan x="1605" y="508">there all possible observers exist.</tspan><tspan x="1605" y="522">But it does not provide information about the size of any</tspan><tspan x="1605" y="529">particular civilization.</tspan><tspan x="1605" y="543">Also, it increases the probability that the Great Filter</tspan><tspan x="1605" y="550">is in our future.</tspan></text></g>

<g id="self-rebuttal"><rect x="1482" y="593" width="89" height="100" class="box rt" style="stroke-width:2.6"/>
<text class="t" font-size="9.5" x="1526.5" y="611">Self rebuttal</text>
<text class="b"><tspan x="1484" y="630">DA is randomly chosen from</tspan><tspan x="1484" y="637">all math theories and if it is</tspan><tspan x="1484" y="644">true it will be refuted soon.</tspan><tspan x="1484" y="651">This is paradoxical so DA</tspan><tspan x="1484" y="658">can't be true.</tspan><tspan x="1484" y="672" class="l">wiki</tspan></text></g>

<g id="different-outcomes"><rect x="1605" y="593" width="170" height="106" class="box rt" style="stroke-width:2.6"/>
<text class="t" font-size="9.5" x="1690" y="610">Different outcomes are possible</text>
<text class="b"><tspan x="1609" y="624">The end of any math theories is not rebuttal.</tspan><tspan x="1609" y="638">Math theories do not necessary die through explicit</tspan><tspan x="1609" y="645">rebuttal. They may be forgotten, as when its</tspan><tspan x="1609" y="652">originator dies. So DA could be true and never explicitly</tspan><tspan x="1609" y="659">rebutted.  Even if it seems that many salient</tspan><tspan x="1609" y="666">mathematical theories are refuted, the majority are just</tspan><tspan x="1609" y="673">forgotten and their actual truth value is never</tspan><tspan x="1609" y="680">evaluated.</tspan><tspan x="1609" y="694">So DA could be true and means extinction.</tspan></text></g>

<g id="every-possible"><rect x="1483" y="712" width="87" height="100" class="box rt" style="stroke-width:2.6"/>
<text class="t" font-size="9.5"><tspan x="1526.5" y="730">Every possible</tspan><tspan x="1526.5" y="742">observer exists</tspan></text>
<text class="b"><tspan x="1485" y="755">If all possible observers</tspan><tspan x="1485" y="762">exist, the existence of one</tspan><tspan x="1485" y="769">particular observer does not</tspan><tspan x="1485" y="776">provide any evidence.</tspan></text></g>

<g id="random-distribution"><rect x="1607" y="710" width="168" height="125" class="box rt" style="stroke-width:2.6"/>
<text class="t" font-size="9.5"><tspan x="1691" y="728">Random distribution is not</tspan><tspan x="1691" y="740">affected by the fact</tspan><tspan x="1691" y="751">that everything exist</tspan></text>
<text class="b"><tspan x="1610" y="765">Even if everything exist, this does not prevent random</tspan><tspan x="1610" y="772">distribution of observer properties, which may be</tspan><tspan x="1610" y="779">demonstrated in other domains.</tspan><tspan x="1610" y="793">DA-like predictions work in other domains,</tspan><tspan x="1610" y="800">even if everything exist: birth date.</tspan><tspan x="1610" y="813">Even if all observers exist, they can exist in different</tspan><tspan x="1610" y="820">probability distributions, so that does not refute DA.</tspan></text></g>

<g id="non-random-examples"><rect x="1483" y="841" width="87" height="100" class="box rt" style="stroke-width:2.6"/>
<text class="t" font-size="9.5"><tspan x="1526.5" y="855">Non-random</tspan><tspan x="1526.5" y="867">examples</tspan></text>
<text class="b"><tspan x="1485" y="880">Many try to refute DA based</tspan><tspan x="1485" y="887">on some non-random</tspan><tspan x="1485" y="894">examples (like a child for</tspan><tspan x="1485" y="901">the case of predicting hu-</tspan><tspan x="1485" y="908">man life expectancy –</tspan><tspan x="1485" y="915"><tspan class="l">Caves</tspan>)</tspan></text></g>

<g id="da-statistical"><rect x="1607" y="841" width="168" height="100" class="box rt" style="stroke-width:2.6"/>
<text class="t" font-size="9.5" x="1691" y="855">DA is statistical</text>
<text class="b"><tspan x="1610" y="867">DA is a statistical argument and it may not work in</tspan><tspan x="1610" y="874">some non-random examples (like how temperature is</tspan><tspan x="1610" y="881">statistical measure of the speed of molecules and some</tspan><tspan x="1610" y="888">molecules may be slower).</tspan></text></g>

<g id="sia-compensates"><rect x="1483" y="957" width="87" height="112" class="box rt" style="stroke-width:2.6"/>
<text class="t" font-size="9.5"><tspan x="1526.5" y="977">SIA exactly</tspan><tspan x="1526.5" y="989">compensates</tspan><tspan x="1526.5" y="1000">SSA</tspan></text></g>

<g id="sia-self-rebuttal"><rect x="1607" y="958" width="168" height="112" class="box rt" style="stroke-width:2.6"/>
<text class="t" font-size="9.5" x="1691" y="978">SIA self rebuttal</text>
<text class="b"><tspan x="1610" y="992">If many different universes exist, and one of them has</tspan><tspan x="1610" y="999">infinite number of all possible observers, SIA imply that</tspan><tspan x="1610" y="1006">I must be in it.</tspan><tspan x="1610" y="1020">But if infinite number of all possible observers exist, the</tspan><tspan x="1610" y="1027">condition that I may not be born is not working in this</tspan><tspan x="1610" y="1034">universe and I can’t apply SIA to the Earth’s fate.</tspan></text></g>

<g id="timeless"><rect x="1482" y="1084" width="89" height="100" class="box rt" style="stroke-width:2.6"/>
<text class="t" font-size="9.5"><tspan x="1526.5" y="1098">DA in the</tspan><tspan x="1526.5" y="1110">timeless universe</tspan></text>
<text class="b"><tspan x="1484" y="1124">In the timeless universe</tspan><tspan x="1484" y="1131">there is no special NOW</tspan><tspan x="1484" y="1138">moment which is randomly</tspan><tspan x="1484" y="1145">put in the timeline and from</tspan><tspan x="1484" y="1152">which we could conclude</tspan><tspan x="1484" y="1159">about the timeline structure.</tspan></text></g>

<g id="da-style-work"><rect x="1609" y="1084" width="166" height="100" class="box rt" style="stroke-width:2.6"/>
<text class="t" font-size="9.5"><tspan x="1692" y="1098">But DA-style theories work in</tspan><tspan x="1692" y="1110">other domains</tspan></text>
<text class="b"><tspan x="1613" y="1124">In other situations the result is as if NOW moment is</tspan><tspan x="1613" y="1131">random.</tspan></text></g>

<g id="deterministic"><rect x="1482" y="1208" width="88" height="100" class="box rt" style="stroke-width:2.6"/>
<text class="t" font-size="9.5"><tspan x="1526" y="1223">DA requires</tspan><tspan x="1526" y="1234">deterministic</tspan><tspan x="1526" y="1245">world</tspan></text>
<text class="b"><tspan x="1484" y="1259">Leslie claims that for DA to</tspan><tspan x="1484" y="1266">be valid the world should be</tspan><tspan x="1484" y="1273">deterministic (and so our</tspan><tspan x="1484" y="1280">future existence time is de-</tspan><tspan x="1484" y="1287">fined by now) and result is</tspan><tspan x="1484" y="1294">like timeless theory</tspan></text></g>

<g id="median-life"><rect x="1611" y="1208" width="164" height="100" class="box rt" style="stroke-width:2.6"/>
<text class="t" font-size="9.5"><tspan x="1693" y="1229">Median life expectancy</tspan><tspan x="1693" y="1240">version of DA works in</tspan><tspan x="1693" y="1251">indeterministic world</tspan></text></g>

<g id="ref-question"><rect x="1482" y="1324" width="87" height="100" class="box rt" style="stroke-width:2.6"/>
<text class="t" font-size="9.5"><tspan x="1525.5" y="1339">Reference class</tspan><tspan x="1525.5" y="1351">is defined by</tspan><tspan x="1525.5" y="1362">having</tspan><tspan x="1525.5" y="1374">a question</tspan></text>
<text class="b"><tspan x="1484" y="1387">If I am interested in DA  I</tspan><tspan x="1484" y="1394">belong by definition to the</tspan><tspan x="1484" y="1401">class of observers who are</tspan><tspan x="1484" y="1408">surprised to be so early in</tspan><tspan x="1484" y="1415">their civilizations</tspan></text></g>

<g id="da-works-other"><rect x="1613" y="1324" width="162" height="100" class="box rt" style="stroke-width:2.6"/>
<text class="t" font-size="9.5"><tspan x="1694" y="1339">DA works for other</tspan><tspan x="1694" y="1351">reference classes too</tspan></text></g>

<g id="end-of-world"><rect x="1482" y="1449" width="87" height="99" class="box rt" style="stroke-width:2.6"/>
<text class="t" font-size="9.5"><tspan x="1525.5" y="1464">End of the world</tspan><tspan x="1525.5" y="1475">is special case</tspan></text>
<text class="b c l"><tspan x="1525.5" y="1489">for which DA-style</tspan><tspan x="1525.5" y="1496">arguments can't be applied</tspan></text></g>

<g id="no-evidence"><rect x="1613" y="1449" width="162" height="99" class="box rt" style="stroke-width:2.6"/>
<text class="t" font-size="9.5" x="1694" y="1464">No evidence for that</text></g>

<g id="future-research"><rect x="1199" y="1382" width="195" height="175" class="box ro" style="stroke-width:2.6"/>
<text class="t" font-size="9.5" x="1296.5" y="1399" style="fill:#5a6a9a">Future research plan</text>
<text class="b"><tspan x="1206" y="1413">We should make some research to prove or disprove DA. The</tspan><tspan x="1206" y="1420">main line of such research would be to try similar to DA logic in</tspan><tspan x="1206" y="1427">other domains, starting from most mundane, like human age,</tspan><tspan x="1206" y="1434">and up to most complex and civilizational level ones.</tspan><tspan x="1206" y="1448">For example, it is possible to measure size of the Earth using</tspan><tspan x="1206" y="1455">only Copernican mediocracy principle. All we need to know is</tspan><tspan x="1206" y="1462">distance from my birth place to equator, and assumption that</tspan><tspan x="1206" y="1469">human birth places are distributed on randomly distances from</tspan><tspan x="1206" y="1476">equator. I was born 6000 km from equator, and it may be used</tspan><tspan x="1206" y="1483">to conclusion that Earth’s radius is around 7000 km which is</tspan><tspan x="1206" y="1490">almost true (real radius is near 6300) Exact calculations here</tspan><tspan x="1206" y="1497">should be more complex, as it must take in account spherical</tspan><tspan x="1206" y="1504">distribution of the observers and will result in bigger radius.</tspan></text></g>

<!-- positive column -->
<g id="proven-false"><rect x="1837" y="337" width="109" height="99" class="box ro"/>
<text class="t" font-size="9"><tspan x="1891.5" y="355">DA will be</tspan><tspan x="1891.5" y="366">proven to be false</tspan></text>
<text class="b"><tspan x="1841" y="379">Most promising: non-randomness</tspan><tspan x="1841" y="386">of our position: even if "immortal"</tspan><tspan x="1841" y="393">civilizations exist, they will be</tspan><tspan x="1841" y="400">worrying about DA in the</tspan><tspan x="1841" y="407">beginning, so some worrying</tspan><tspan x="1841" y="414">observers do exist even in best</tspan><tspan x="1841" y="421">scenario.</tspan></text></g>

<g id="narrow-escape"><rect x="1837" y="468" width="109" height="100" class="box ro"/>
<text class="t" font-size="9"><tspan x="1891.5" y="485">DA</tspan><tspan x="1891.5" y="496">narrow escape</tspan></text>
<text class="b"><tspan x="1841" y="516">Most technological civilizations go</tspan><tspan x="1841" y="523">extinct but some do not, and we</tspan><tspan x="1841" y="530">will do everything possible to be</tspan><tspan x="1841" y="537">the one that doesn't.</tspan></text></g>

<g id="change-class"><rect x="1837" y="592" width="109" height="100" class="box ro"/>
<text class="t" font-size="9"><tspan x="1891.5" y="609">Change of the</tspan><tspan x="1891.5" y="620">reference class</tspan></text>
<text class="b"><tspan x="1841" y="640">DA is true but we will move to</tspan><tspan x="1841" y="647">another reference class:</tspan><tspan x="1841" y="654">- will become uploads,</tspan><tspan x="1841" y="661">- will create AI,</tspan><tspan x="1841" y="668">- change birth rate,</tspan><tspan x="1841" y="675">- stop thinking about DA.</tspan></text></g>

<g id="observer-selection"><rect x="1837" y="709" width="109" height="99" class="box ro"/>
<text class="t" font-size="9"><tspan x="1891.5" y="726">Observer</tspan><tspan x="1891.5" y="737">selection effects</tspan><tspan x="1891.5" y="749">result in survival</tspan></text>
<text class="b"><tspan x="1841" y="771">Many world quantum immortality</tspan><tspan x="1841" y="778">on civilizational level.</tspan></text></g>

<g id="false-unproven"><rect x="1837" y="841" width="109" height="99" class="box ro"/>
<text class="t" font-size="9"><tspan x="1891.5" y="857">DA is false</tspan><tspan x="1891.5" y="868">but it can’t be proven</tspan></text>
<text class="b"><tspan x="1840" y="882">If we exist long enough we will</tspan><tspan x="1840" y="889">prove empirically that DA does not</tspan><tspan x="1840" y="896">work, but we will not know why.</tspan><tspan x="1840" y="906">DA may be proved to be</tspan><tspan x="1840" y="913">unprovable. We may prove that</tspan><tspan x="1840" y="920">we will never know was it right</tspan><tspan x="1840" y="927">or not.</tspan></text></g>

<g id="true-not-global"><rect x="1837" y="963" width="109" height="79" class="box ro"/>
<text class="t" font-size="9"><tspan x="1891.5" y="979">DA is true but does</tspan><tspan x="1891.5" y="990">not mean global</tspan><tspan x="1891.5" y="1001">catastrophe</tspan></text>
<text class="b"><tspan x="1841" y="1021">It will be forgotten, or solved, or</tspan><tspan x="1841" y="1028">reference class will change, or</tspan><tspan x="1841" y="1035">birth rate decline.</tspan></text></g>

<g id="normality"><rect x="1837" y="1058" width="109" height="67" class="box ro"/>
<text class="t" font-size="9"><tspan x="1891.5" y="1075">It all adds up</tspan><tspan x="1891.5" y="1086">to normality</tspan></text>
<text class="b"><tspan x="1841" y="1101">DA is true but is compensated by</tspan><tspan x="1841" y="1108">other theory like SA, multiverse,</tspan><tspan x="1841" y="1115">SSI, BBs, FAI.</tspan></text></g>

<g id="non-informative"><rect x="1836" y="1140" width="116" height="72" class="box ro"/>
<text class="t" font-size="9" x="1894" y="1157">DA is non-informative</text>
<text class="b"><tspan x="1840" y="1170">We already know that dangerous</tspan><tspan x="1840" y="1177">x-risks exist soon ahead, and DA</tspan><tspan x="1840" y="1184">only confirms it or changes their</tspan><tspan x="1840" y="1191">probability in insignificant and</tspan><tspan x="1840" y="1198">unmeasurable way.</tspan></text></g>

<g id="manipulating"><rect x="1823" y="1241" width="135" height="215" class="box ro"/>
<text class="t" font-size="7.5"><tspan x="1890.5" y="1256">Manipulating the</tspan><tspan x="1890.5" y="1265">extinction probability using</tspan><tspan x="1890.5" y="1274">Doomsday argument</tspan></text>
<text class="b"><tspan x="1826" y="1285">• Decision to create more observers in case</tspan><tspan x="1826" y="1292">that unfavourable event X starts to happen,</tspan><tspan x="1826" y="1299">thereby lowering its probability (method</tspan><tspan x="1826" y="1306"><tspan class="l">UN++ by Bostrom</tspan>).</tspan><tspan x="1826" y="1320">• Lowering birth’s density to get more time</tspan><tspan x="1826" y="1327">for the existence of the civilization.</tspan><tspan x="1826" y="1342">• Change the way of the end of our</tspan><tspan x="1826" y="1349">reference class.</tspan><tspan x="1826" y="1363">• Try to be unique (and non-random)</tspan><tspan x="1826" y="1370">to escape DA logic.</tspan><tspan x="1826" y="1384">• Many worlds immortality on civilizational</tspan><tspan x="1826" y="1391">level is used to create universal probability</tspan><tspan x="1826" y="1398">manipulator.</tspan></text></g>

<g id="meta-doomsday"><rect x="1793" y="1516" width="198" height="172" class="box ro"/>
<text class="t" font-size="9"><tspan x="1892" y="1532">Meta-Doomsday</tspan><tspan x="1892" y="1543">argument</tspan></text>
<text class="b"><tspan x="1799" y="1566">• Bayesian DA:</tspan><tspan x="1799" y="1573">We don't know truth about DA but there is a probability that</tspan><tspan x="1799" y="1580">one of the versions is true</tspan><tspan x="1799" y="1591">• Reverse DA:</tspan><tspan x="1799" y="1598">The fact that we see global risks soon ahead says that some</tspan><tspan x="1799" y="1605">kind of DA is probably true</tspan><tspan x="1799" y="1616">• Two-level DA:</tspan><tspan x="1799" y="1623">Use Gott formula to estimate future existence time, then use</tspan><tspan x="1799" y="1630">Carter formula to upgrade estimation of future x-risks using</tspan><tspan x="1799" y="1637">Gotts result as prior.</tspan><tspan x="1799" y="1648">• Decision theory DA approach:</tspan><tspan x="1799" y="1655">How DA could influence our decisions – be more cautious?</tspan><tspan x="1799" y="1662" class="l">(Armstrong)</tspan></text></g>

<g id="credits"><text class="f" font-size="3.6"><tspan x="1686" y="1738">(c) Alexey Turchin 2015</tspan></text>
<text class="f" font-size="4.3"><tspan x="1686" y="1752">© Alexey Turchin, 2015, GNU-like license. Free copying and design editing, discuss major updates with Alexey Turchin.</tspan><tspan x="1686" y="1758">http://immortality-roadmap.com/ – last updated version here</tspan><tspan x="1686" y="1764">Proofreading and advise: Michael Anissimov</tspan></text></g>
</svg>
